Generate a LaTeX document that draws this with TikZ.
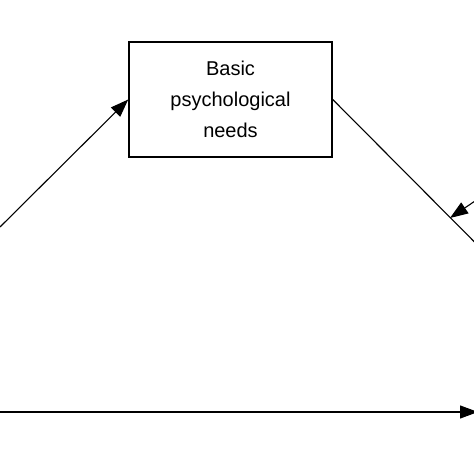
\documentclass[tikz,border=0pt]{standalone}
\usepackage{fontspec}
\setmainfont{Liberation Sans}
\usetikzlibrary{arrows.meta}

\begin{document}
\begin{tikzpicture}[x=1pt, y=1pt]
\useasboundingbox (0, 0) rectangle (474, 474);
\tikzset{arr/.style={line width=1.1pt, -{Triangle[length=18pt, width=13pt]}}}
\node[draw, line width=1.5pt, minimum width=203pt, minimum height=115pt, align=center,
  font=\fontsize{20}{31}\selectfont] (needs) at (230.5, 374.5) {Basic\\psychological\\needs};
\coordinate (lstart) at (0, 247);
\coordinate (rend) at (475, 231.5);
\coordinate (mstart) at (478, 275);
\coordinate (mtip) at (450, 256);
\coordinate (bstart) at (0, 62);
\coordinate (bend) at (478, 62);
\draw[arr] (lstart) -- (needs.west);
\draw[line width=1.1pt] (needs.east) -- (rend);
\draw[arr] (mstart) -- (mtip);
\draw[arr] (bstart) -- (bend);
\end{tikzpicture}
\end{document}
